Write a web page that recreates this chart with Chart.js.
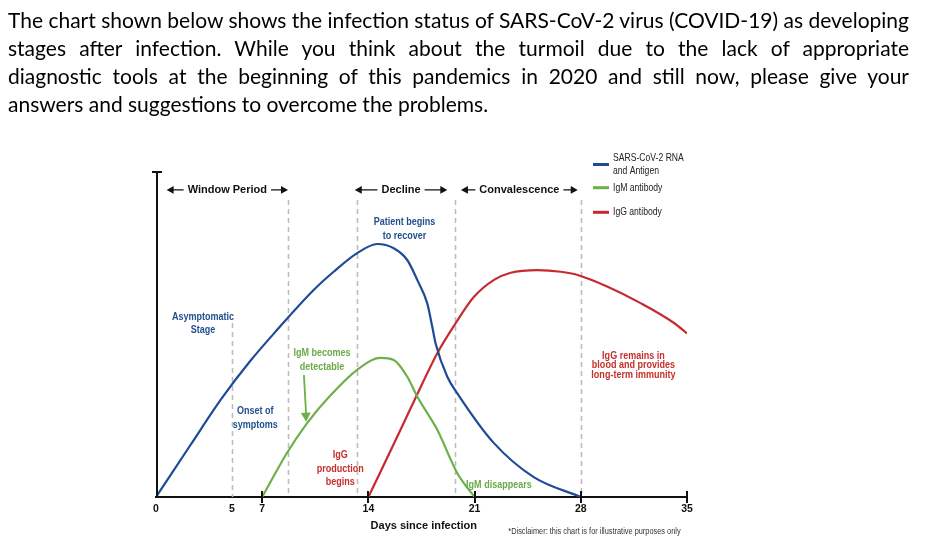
<!DOCTYPE html>
<html>
<head>
<meta charset="utf-8">
<script src="https://cdn.jsdelivr.net/npm/chart.js@4.4.1/dist/chart.umd.min.js"></script>
<style>
  body { margin: 0; background: #fff; }
  #wrap { position: relative; width: 927px; height: 554px; overflow: hidden; }
  #question { position: absolute; left: 8px; top: 6px; width: 901px; font-family: Lato, 'Open Sans', sans-serif; font-size: 21px; line-height: 28px; color: #000; }
  #question div { white-space: nowrap; text-align: justify; text-align-last: justify; }
  #question div.last { text-align-last: left; }
  #chart { position: absolute; left: 0; top: 0; }
</style>
</head>
<body>
<div id="wrap">
  <canvas id="chart" width="927" height="554"></canvas>
  <div id="question">
    <div>The chart shown below shows the infection status of SARS-CoV-2 virus (COVID-19) as developing</div>
    <div>stages after infection. While you think about the turmoil due to the lack of appropriate</div>
    <div>diagnostic tools at the beginning of this pandemics in 2020 and still now, please give your</div>
    <div class="last">answers and suggestions to overcome the problems.</div>
  </div>
</div>
<script>
// days on the x axis, level is an arbitrary 0-100 scale (illustrative only)
var dayTicks = [0, 5, 7, 14, 21, 28, 35];
var markedTicks = [7, 14, 21, 28, 35];

var rnaDays  = [0, 2.25, 4.34, 6.21, 7.97, 10.39, 11.71, 13.26, 14.58, 15.67, 16.56, 17.22, 17.88, 18.21, 18.43, 19.2, 19.86, 22.26, 24.9, 28];
var rnaLevel = [0, 15.8, 30.3, 41.7, 51.2, 63.5, 69.1, 74.8, 77.6, 76.3, 72.7, 66.6, 59.4, 52.2, 47.1, 36.9, 31.8, 16.6, 6.1, 0];

var igmDays  = [7, 8.63, 9.95, 11.49, 13.26, 14.8, 15.67, 16.56, 17.22, 18.54, 19.86, 21];
var igmLevel = [0, 13.5, 22.6, 31.1, 39.0, 42.7, 42.0, 36.9, 30.8, 20.6, 7.3, 0];

var iggDays  = [14, 15.9, 17.22, 18.54, 19.75, 20.96, 22.28, 23.38, 25.15, 26.68, 27.79, 29.77, 31.97, 34.17, 35];
var iggLevel = [0, 18.5, 31.5, 44.1, 53.3, 61.4, 66.6, 68.8, 69.6, 69.1, 68.1, 64.5, 59.4, 53.3, 50.2];

var seriesLabels = [['SARS-CoV-2 RNA', 'and Antigen'], ['IgM antibody'], ['IgG antibody']];

var stageNames = ['Window Period', 'Decline', 'Convalescence'];
var stageFrom  = [0.7, 13.1, 20.1];
var stageTo    = [8.7, 19.2, 27.8];

var guideDays = [5, 8.72, 13.28, 19.68, 28];
var guideTop  = [53.4, 91.1, 91.1, 91.1, 91.1];

var BLUE = '#1f4a96', GREEN = '#6db04b', RED = '#c62a2f';
var BLUE_TXT = '#24508f', GREEN_TXT = '#6aab48', RED_TXT = '#c4302b';
var SANS = "'Liberation Sans', Arial, sans-serif";
var SQUEEZE = 0.82;   // no narrow font installed, so squeeze Liberation Sans

var notes = [
    { lines: ['Asymptomatic', 'Stage'], day: 3.1, level: 53.3, color: BLUE_TXT, lh: 13.5 },
    { lines: ['Onset of', 'symptoms'], day: 6.54, level: 24.3, color: BLUE_TXT, lh: 14 },
    { lines: ['Patient begins', 'to recover'], day: 16.38, level: 82.1, color: BLUE_TXT, lh: 14 },
    { lines: ['IgM becomes', 'detectable'], day: 10.94, level: 42.0, color: GREEN_TXT, lh: 13.5 },
    { lines: ['IgG', 'production', 'begins'], day: 12.15, level: 8.6, color: RED_TXT, lh: 13.5 },
    { lines: ['IgG remains in', 'blood and provides', 'long-term immunity'], day: 31.47, level: 40.4, color: RED_TXT, lh: 9.8 },
    { lines: ['IgM disappears'], day: 20.44, level: 3.7, color: GREEN_TXT, lh: 12, align: 'left' }
];

function toPoints(xs, ys) {
    return xs.map(function (x, i) { return { x: x, y: ys[i] }; });
}

function squeezedText(ctx, text, x, y, align) {
    ctx.save();
    ctx.translate(x, y);
    ctx.scale(SQUEEZE, 1);
    ctx.textAlign = align;
    ctx.fillText(text, 0, 0);
    ctx.restore();
}

function arrowHead(ctx, x, y, dx, dy, size) {
    var len = Math.sqrt(dx * dx + dy * dy);
    var ux = dx / len, uy = dy / len;
    ctx.beginPath();
    ctx.moveTo(x, y);
    ctx.lineTo(x - ux * size - uy * size * 0.55, y - uy * size + ux * size * 0.55);
    ctx.lineTo(x - ux * size + uy * size * 0.55, y - uy * size - ux * size * 0.55);
    ctx.closePath();
    ctx.fill();
}

var guidePlugin = {
    id: 'guides',
    beforeDatasetsDraw: function (chart) {
        var ctx = chart.ctx, xs = chart.scales.x, ys = chart.scales.y;
        ctx.save();
        ctx.strokeStyle = '#bcbcbc';
        ctx.lineWidth = 1.6;
        ctx.setLineDash([5, 4]);
        guideDays.forEach(function (d, i) {
            var x = Math.round(xs.getPixelForValue(d)) + 0.5;
            ctx.beginPath();
            ctx.moveTo(x, ys.getPixelForValue(guideTop[i]));
            ctx.lineTo(x, ys.getPixelForValue(0));
            ctx.stroke();
        });
        ctx.restore();
    }
};

var decorPlugin = {
    id: 'decor',
    afterDatasetsDraw: function (chart) {
        var ctx = chart.ctx, xs = chart.scales.x, ys = chart.scales.y;
        var area = chart.chartArea;
        ctx.save();

        // y axis with cap
        ctx.strokeStyle = '#111';
        ctx.lineWidth = 2;
        ctx.beginPath();
        ctx.moveTo(area.left + 1, area.top);
        ctx.lineTo(area.left + 1, area.bottom);
        ctx.moveTo(area.left - 4, area.top + 1);
        ctx.lineTo(area.left + 6, area.top + 1);
        ctx.stroke();

        // tick marks crossing the x axis
        markedTicks.forEach(function (d) {
            var x = Math.round(xs.getPixelForValue(d));
            ctx.beginPath();
            ctx.moveTo(x, area.bottom - 6);
            ctx.lineTo(x, area.bottom + 6);
            ctx.stroke();
        });

        // stage headers with arrows
        ctx.fillStyle = '#111';
        ctx.strokeStyle = '#111';
        ctx.lineWidth = 1.2;
        ctx.font = 'bold 11px ' + SANS;
        ctx.textAlign = 'center';
        ctx.textBaseline = 'middle';
        var yh = ys.getPixelForValue(94.2);
        stageNames.forEach(function (name, i) {
            var x0 = xs.getPixelForValue(stageFrom[i]);
            var x1 = xs.getPixelForValue(stageTo[i]);
            var w = ctx.measureText(name).width;
            var mid = (x0 + x1) / 2;
            ctx.fillText(name, mid, yh);
            ctx.beginPath();
            ctx.moveTo(x0 + 3, yh);
            ctx.lineTo(mid - w / 2 - 4, yh);
            ctx.moveTo(mid + w / 2 + 4, yh);
            ctx.lineTo(x1 - 3, yh);
            ctx.stroke();
            arrowHead(ctx, x0, yh, -1, 0, 7);
            arrowHead(ctx, x1, yh, 1, 0, 7);
        });

        // text notes
        ctx.font = 'bold 11px ' + SANS;
        notes.forEach(function (n) {
            ctx.fillStyle = n.color;
            var cx = xs.getPixelForValue(n.day);
            var cy = ys.getPixelForValue(n.level) - (n.lines.length - 1) * n.lh / 2;
            n.lines.forEach(function (t, k) {
                squeezedText(ctx, t, cx, cy + k * n.lh, n.align || 'center');
            });
        });

        // IgM arrow
        ctx.strokeStyle = GREEN;
        ctx.fillStyle = GREEN;
        ctx.lineWidth = 1.8;
        var ax0 = xs.getPixelForValue(9.75), ay0 = ys.getPixelForValue(37.4);
        var ax1 = xs.getPixelForValue(9.9), ay1 = ys.getPixelForValue(23.1);
        ctx.beginPath();
        ctx.moveTo(ax0, ay0);
        ctx.lineTo(ax1, ay1 - 6);
        ctx.stroke();
        arrowHead(ctx, ax1, ay1, ax1 - ax0, ay1 - ay0, 9);

        // axis title and disclaimer
        ctx.fillStyle = '#111';
        ctx.textAlign = 'center';
        ctx.font = 'bold 11px ' + SANS;
        ctx.fillText('Days since infection', xs.getPixelForValue(17.65), area.bottom + 29);
        ctx.fillStyle = '#333';
        ctx.font = '9px ' + SANS;
        squeezedText(ctx, '*Disclaimer: this chart is for illustrative purposes only', xs.getPixelForValue(28.9), area.bottom + 35, 'center');

        // legend
        var colors = [BLUE, GREEN, RED];
        var legendY = [164.5, 187.7, 212.3];
        ctx.font = '10.5px ' + SANS;
        ctx.fillStyle = '#222';
        seriesLabels.forEach(function (lines, i) {
            ctx.strokeStyle = colors[i];
            ctx.lineWidth = 3;
            ctx.beginPath();
            ctx.moveTo(593, legendY[i]);
            ctx.lineTo(609, legendY[i]);
            ctx.stroke();
            var y0 = legendY[i] - (lines.length - 1) * 12.7 / 2;
            lines.forEach(function (t, k) {
                squeezedText(ctx, t, 613, y0 + k * 12.7, 'left');
            });
        });
        ctx.restore();
    }
};

var ctx = document.getElementById('chart');
var chart = new Chart(ctx, {
    type: 'line',
    data: {
        datasets: [{
            label: seriesLabels[0].join(' '),
            data: toPoints(rnaDays, rnaLevel),
            borderColor: BLUE
        }, {
            label: seriesLabels[1][0],
            data: toPoints(igmDays, igmLevel),
            borderColor: GREEN
        }, {
            label: seriesLabels[2][0],
            data: toPoints(iggDays, iggLevel),
            borderColor: RED
        }]
    },
    options: {
        responsive: false,
        animation: false,
        layout: { padding: { left: 156, right: 240, top: 171, bottom: 35 } },
        elements: {
            point: { radius: 0 },
            line: { borderWidth: 2.2, cubicInterpolationMode: 'monotone', fill: false }
        },
        scales: {
            x: {
                type: 'linear',
                min: 0,
                max: 35,
                afterBuildTicks: function (scale) {
                    scale.ticks = dayTicks.map(function (v) { return { value: v }; });
                },
                afterFit: function (scale) { scale.height = 22; },
                grid: { display: false, drawTicks: false },
                border: { display: true, color: '#111', width: 2 },
                ticks: {
                    autoSkip: false,
                    maxRotation: 0,
                    padding: 6,
                    color: '#111',
                    font: { family: SANS, size: 10.5, weight: 'bold' }
                }
            },
            y: { display: false, min: 0, max: 100 }
        },
        plugins: {
            legend: { display: false },
            tooltip: { enabled: false }
        }
    },
    plugins: [guidePlugin, decorPlugin]
});
</script>
</body>
</html>
